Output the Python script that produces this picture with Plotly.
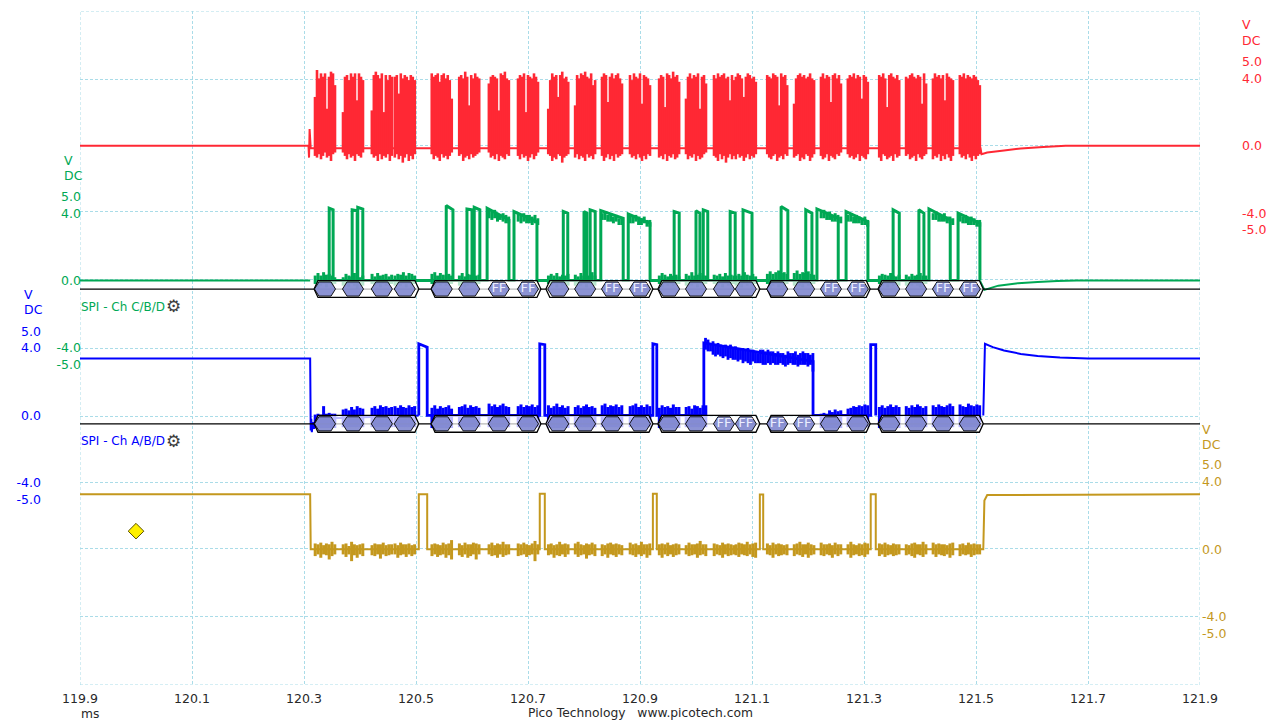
import plotly.graph_objects as go

RED = 'rgb(255,40,52)'
GREEN = 'rgb(0,168,84)'
BLUE = 'rgb(0,0,255)'
GOLD = 'rgb(196,152,30)'
GRID = 'rgb(170,220,232)'
FONT = 'DejaVu Sans'

time_ticks = [119.9, 120.1, 120.3, 120.5, 120.7, 120.9, 121.1, 121.3, 121.5, 121.7, 121.9]
volt_ticks = [-5, -4, 0, 4, 5]
volt_labels = ['-5.0', '-4.0', '0.0', '4.0', '5.0']
grid_levels = [1.01, 2.02, 3.0, 3.99, 5.0, 6.01, 7.02, 8.01, 8.99]

# centre time of each decoded byte, the noise bursts sit on the same bytes
byte_t = [120.3375, 120.3875, 120.439, 120.480, 120.546, 120.595, 120.648, 120.700,
          120.754, 120.802, 120.850, 120.900, 120.952, 121.000, 121.050, 121.089,
          121.145, 121.193, 121.241, 121.289, 121.345, 121.393, 121.441, 121.489]
packet_start = [120.318, 120.527, 120.732, 120.932, 121.127, 121.325]
packet_end = [120.505, 120.723, 120.923, 121.114, 121.311, 121.513]
ff_top = [6, 7, 10, 11, 18, 19, 22, 23]
ff_bottom = [14, 15, 16, 17]

# channel D (red)
red_t = [119.9, 120.308, 120.309, 120.310, 120.312, 121.508, 121.510, 121.52, 121.55, 121.58, 121.62, 121.66, 121.9]
red_v = [0.0, 0.0, -0.7, 1.0, -0.15, -0.15, -0.5, -0.4, -0.28, -0.16, -0.07, 0.0, 0.0]
red_hi = [
    [2.9, 4.5, 4.0, 4.3, 4.1, 4.3, 2.2, 4.1, 4.4, 4.3, 3.6],
    [2.0, 4.1, 4.2, 3.9, 4.3, 4.1, 4.3, 2.7, 4.3, 4.1, 3.9],
    [2.1, 4.2, 4.4, 4.2, 4.0, 4.3, 2.0, 4.2, 3.9, 4.2, 4.1],
    [4.1, 4.2, 3.1, 4.3, 4.0, 4.2, 4.1, 3.9, 4.2, 4.1, 3.9],
    [4.3, 4.1, 4.2, 4.3, 3.8, 4.2, 4.3, 4.0, 4.2, 3.9, 2.8],
    [4.1, 4.2, 4.0, 4.4, 4.1, 2.4, 4.2, 4.0, 4.3, 4.1, 4.0],
    [3.7, 4.1, 4.2, 4.1, 4.0, 2.1, 4.3, 4.2, 4.4, 4.0, 3.9],
    [4.0, 4.2, 4.1, 4.3, 2.0, 4.2, 4.1, 4.0, 4.3, 4.1, 3.8],
    [2.2, 3.9, 4.3, 4.1, 4.2, 2.9, 4.2, 4.4, 4.0, 4.1, 3.8],
    [2.4, 4.2, 4.0, 4.3, 4.2, 4.4, 4.1, 4.0, 4.3, 3.6, 3.9],
    [4.1, 4.3, 4.2, 2.6, 4.1, 4.3, 4.0, 4.2, 4.3, 4.0, 3.7],
    [4.2, 3.9, 4.3, 4.1, 4.0, 4.3, 2.5, 4.2, 4.1, 4.0, 3.6],
    [4.0, 4.2, 4.1, 2.3, 4.3, 4.2, 4.0, 4.4, 4.1, 4.2, 3.8],
    [2.8, 4.1, 4.3, 4.0, 4.2, 4.1, 4.3, 2.2, 4.1, 4.2, 3.7],
    [4.2, 4.0, 4.3, 4.1, 4.2, 4.3, 4.0, 4.1, 2.7, 4.2, 3.9],
    [4.1, 4.3, 4.2, 4.0, 2.9, 4.1, 4.3, 4.2, 4.0, 4.1, 3.8],
    [4.2, 4.1, 4.0, 4.3, 4.2, 4.1, 2.4, 4.3, 4.1, 4.2, 3.6],
    [2.5, 4.0, 4.2, 4.3, 4.1, 4.2, 4.0, 4.1, 4.3, 4.0, 3.9],
    [4.1, 4.3, 4.0, 4.2, 4.1, 2.6, 4.2, 4.3, 4.0, 4.2, 3.7],
    [4.0, 4.2, 4.1, 4.3, 4.0, 4.2, 4.1, 2.8, 4.2, 4.1, 3.8],
    [4.2, 4.1, 4.3, 4.0, 2.3, 4.2, 4.3, 4.1, 4.0, 4.2, 3.9],
    [4.1, 4.0, 4.2, 4.3, 4.1, 4.0, 4.2, 4.1, 2.5, 4.3, 3.7],
    [4.0, 4.3, 4.1, 4.2, 4.0, 4.2, 2.7, 4.3, 4.1, 4.0, 3.9],
    [4.2, 4.1, 4.3, 4.0, 4.2, 4.1, 4.0, 4.2, 4.1, 3.9, 3.6],
]
red_lo = [
    [-0.6, -0.7, -0.5, -0.8, -0.6, -0.4, -0.7, -0.6, -0.9, -0.5, -0.4],
    [-0.4, -0.6, -0.8, -0.5, -0.7, -0.6, -0.9, -0.5, -0.6, -0.7, -0.4],
    [-0.5, -0.7, -0.6, -0.9, -0.5, -0.8, -0.6, -0.7, -0.5, -0.9, -0.6],
    [-0.7, -0.5, -0.8, -0.6, -1.0, -0.7, -0.5, -0.9, -0.6, -0.8, -0.5],
    [-0.5, -0.8, -0.6, -0.7, -0.9, -0.5, -0.7, -0.6, -0.8, -0.6, -0.4],
    [-0.6, -0.5, -0.9, -0.7, -0.6, -0.8, -0.5, -0.7, -0.6, -0.5, -0.4],
    [-0.4, -0.7, -0.6, -0.8, -0.5, -0.9, -0.6, -0.7, -0.8, -0.5, -0.6],
    [-0.6, -0.8, -0.5, -0.7, -0.6, -0.9, -0.7, -0.5, -0.8, -0.6, -0.4],
    [-0.5, -0.6, -0.9, -0.7, -0.8, -0.5, -0.6, -1.0, -0.7, -0.6, -0.5],
    [-0.7, -0.5, -0.8, -0.6, -0.7, -0.9, -0.5, -0.7, -0.6, -0.8, -0.5],
    [-0.6, -0.9, -0.7, -0.5, -0.8, -0.6, -0.9, -0.5, -0.7, -0.6, -0.5],
    [-0.5, -0.7, -0.6, -0.8, -0.5, -0.7, -0.9, -0.6, -0.8, -0.5, -0.6],
    [-0.7, -0.6, -0.8, -0.5, -0.9, -0.6, -0.7, -0.5, -0.8, -0.7, -0.5],
    [-0.5, -0.8, -0.6, -0.7, -0.5, -0.9, -0.6, -0.8, -0.7, -0.5, -0.4],
    [-0.6, -0.7, -0.9, -0.5, -0.8, -0.6, -1.0, -0.7, -0.5, -0.8, -0.6],
    [-0.8, -0.5, -0.7, -0.6, -0.9, -0.7, -0.5, -0.8, -0.6, -0.7, -0.5],
    [-0.5, -0.7, -0.8, -0.6, -0.5, -0.9, -0.7, -0.6, -0.8, -0.5, -0.6],
    [-0.7, -0.6, -0.5, -0.9, -0.7, -0.8, -0.5, -0.6, -0.9, -0.7, -0.5],
    [-0.6, -0.8, -0.7, -0.5, -0.9, -0.6, -0.7, -0.8, -0.5, -0.6, -0.4],
    [-0.5, -0.7, -0.6, -0.8, -0.7, -0.5, -0.9, -0.6, -0.7, -0.8, -0.5],
    [-0.7, -0.9, -0.5, -0.6, -0.8, -0.7, -0.6, -0.9, -0.5, -0.7, -0.6],
    [-0.6, -0.5, -0.8, -0.7, -0.6, -0.9, -0.5, -0.7, -0.8, -0.6, -0.5],
    [-0.8, -0.6, -0.7, -0.5, -0.9, -0.6, -0.8, -0.5, -0.7, -0.9, -0.6],
    [-0.5, -0.7, -0.6, -0.8, -0.5, -0.7, -0.9, -0.6, -0.8, -0.6, -0.5],
]

# channel C (green)
green_head_t = [119.9, 120.311]
green_head_v = [0.0, 0.0]
green_on = [120.345, 120.386, 120.396, 120.554, 120.591, 120.604, 120.627, 120.675,
            120.763, 120.800, 120.811, 120.830, 120.879, 120.961, 121.000, 121.013,
            121.061, 121.084, 121.152, 121.196, 121.216, 121.268, 121.352, 121.398,
            121.416, 121.468]
green_off = [120.352, 120.395, 120.405, 120.566, 120.600, 120.614, 120.666, 120.716,
             120.771, 120.805, 120.820, 120.870, 120.918, 120.970, 121.007, 121.021,
             121.070, 121.100, 121.164, 121.207, 121.254, 121.307, 121.363, 121.407,
             121.454, 121.507]
green_top_a = [4.3, 4.2, 4.35, 4.45, 4.25, 4.35, 4.3, 4.1, 4.1, 4.1, 4.2, 4.15, 3.95,
               4.1, 4.15, 4.2, 4.1, 4.2, 4.4, 4.2, 4.25, 4.1, 4.2, 4.2, 4.25, 4.0]
green_top_b = [4.2, 4.15, 4.25, 4.2, 4.2, 4.2, 3.6, 3.5, 4.0, 4.0, 4.1, 3.7, 3.4, 4.0, 4.0,
               4.1, 4.0, 4.0, 4.15, 4.0, 3.7, 3.5, 4.0, 4.0, 3.6, 3.4]
green_tail_t = [121.507, 121.515, 121.54, 121.575, 121.61, 121.645, 121.68, 121.9]
green_tail_v = [0.0, -0.55, -0.3, -0.15, -0.08, -0.03, 0.0, 0.0]
green_hi = [
    [0.3, 0.45, 0.3, 0.5, 0.35, 0.4, 0.3, 0.2],
    [0.2, 0.4, 0.3, 0.25, 0.45, 0.3, 0.2, 0.3],
    [0.4, 0.25, 0.45, 0.3, 0.35, 0.4, 0.25, 0.35],
    [0.3, 0.4, 0.35, 0.5, 0.3, 0.45, 0.4, 0.3],
    [0.4, 0.5, 0.3, 0.45, 0.35, 0.3, 0.4, 0.3],
    [0.3, 0.45, 0.25, 0.4, 0.35, 0.5, 0.3, 0.35],
    [4.2, 4.1, 4.2, 4.0, 3.9, 4.0, 3.9, 3.8],
    [4.0, 3.9, 4.0, 3.9, 3.9, 3.8, 3.9, 3.7],
    [0.3, 0.4, 0.3, 0.45, 0.25, 0.35, 0.3, 0.4],
    [0.35, 0.25, 0.45, 0.3, 0.4, 0.3, 0.5, 0.3],
    [4.0, 4.1, 3.9, 4.0, 3.8, 3.9, 3.7, 3.7],
    [3.9, 3.8, 3.9, 3.8, 3.7, 3.8, 3.6, 3.6],
    [0.3, 0.45, 0.35, 0.25, 0.4, 0.3, 0.35, 0.25],
    [0.4, 0.3, 0.5, 0.3, 0.35, 0.45, 0.3, 0.3],
    [0.35, 0.3, 0.4, 0.25, 0.45, 0.3, 0.35, 0.3],
    [0.3, 0.4, 0.3, 0.5, 0.35, 0.3, 0.4, 0.25],
    [0.4, 0.55, 0.4, 0.5, 0.6, 0.45, 0.5, 0.4],
    [0.45, 0.6, 0.4, 0.5, 0.45, 0.55, 0.4, 0.35],
    [4.1, 4.2, 4.0, 4.1, 3.9, 4.0, 3.9, 3.8],
    [3.9, 4.0, 3.8, 3.9, 3.8, 3.7, 3.8, 3.6],
    [0.3, 0.4, 0.35, 0.3, 0.45, 0.3, 0.25, 0.35],
    [0.35, 0.25, 0.4, 0.3, 0.35, 0.45, 0.3, 0.3],
    [4.0, 4.1, 4.0, 3.9, 4.0, 3.8, 3.8, 3.7],
    [3.9, 3.8, 3.9, 3.7, 3.8, 3.7, 3.6, 3.6],
]
green_lo = [
    [-0.2, -0.5, -0.3, -0.2, -0.4, -0.2, -0.3, -0.2],
    [-0.3, -0.2, -0.4, -0.2, -0.3, -0.5, -0.2, -0.3],
    [-0.2, -0.3, -0.2, -0.4, -0.2, -0.3, -0.2, -0.2],
    [-0.3, -0.2, -0.3, -0.2, -0.4, -0.2, -0.3, -0.2],
    [-0.2, -0.4, -0.2, -0.3, -0.2, -0.3, -0.2, -0.2],
    [-0.3, -0.2, -0.4, -0.3, -0.2, -0.2, -0.3, -0.2],
    [3.7, 3.6, 3.7, 3.5, 3.6, 3.5, 3.4, 3.4],
    [3.5, 3.4, 3.5, 3.4, 3.4, 3.3, 3.4, 3.3],
    [-0.2, -0.3, -0.2, -0.4, -0.2, -0.3, -0.2, -0.3],
    [-0.3, -0.2, -0.3, -0.2, -0.4, -0.2, -0.2, -0.3],
    [3.6, 3.6, 3.5, 3.5, 3.4, 3.5, 3.3, 3.3],
    [3.4, 3.4, 3.5, 3.3, 3.3, 3.4, 3.2, 3.2],
    [-0.2, -0.4, -0.2, -0.3, -0.2, -0.3, -0.2, -0.2],
    [-0.3, -0.2, -0.3, -0.2, -0.4, -0.2, -0.3, -0.2],
    [-0.2, -0.3, -0.2, -0.4, -0.2, -0.3, -0.2, -0.2],
    [-0.3, -0.2, -0.4, -0.2, -0.3, -0.2, -0.3, -0.2],
    [-0.2, -0.5, -0.3, -0.2, -0.4, -0.2, -0.3, -0.2],
    [-0.3, -0.2, -0.3, -0.4, -0.2, -0.3, -0.2, -0.2],
    [3.7, 3.7, 3.6, 3.6, 3.5, 3.5, 3.5, 3.4],
    [3.5, 3.5, 3.4, 3.4, 3.4, 3.3, 3.3, 3.2],
    [-0.2, -0.3, -0.2, -0.4, -0.2, -0.3, -0.2, -0.3],
    [-0.3, -0.2, -0.3, -0.2, -0.3, -0.4, -0.2, -0.2],
    [3.6, 3.6, 3.5, 3.5, 3.5, 3.4, 3.4, 3.3],
    [3.5, 3.4, 3.4, 3.3, 3.3, 3.3, 3.2, 3.2],
]

# channel B (blue)
blue_head_t = [119.9, 120.311, 120.312, 120.313, 120.314, 120.316, 120.318, 120.321]
blue_head_v = [3.38, 3.38, -0.9, -0.2, -1.0, -0.4, -0.8, -0.2]
blue_on = [120.505, 120.721, 120.923, 121.014, 121.312]
blue_off = [120.520, 120.730, 120.930, 121.209, 121.321]
blue_top_a = [4.25, 4.25, 4.25, 4.3, 4.2]
blue_top_b = [4.05, 4.2, 4.2, 3.2, 4.2]
blue_tail_t = [121.513, 121.516, 121.53, 121.55, 121.58, 121.61, 121.65, 121.70, 121.9]
blue_tail_v = [0.0, 4.25, 4.05, 3.85, 3.65, 3.52, 3.43, 3.38, 3.38]
blue_hi = [
    [0.05, 0.1, 0.05, 0.55, 0.1, 0.15, 0.1, 0.1],
    [0.35, 0.4, 0.3, 0.5, 0.35, 0.55, 0.45, 0.4],
    [0.45, 0.55, 0.4, 0.6, 0.5, 0.55, 0.45, 0.5],
    [0.55, 0.45, 0.6, 0.5, 0.45, 0.6, 0.5, 0.55],
    [0.45, 0.6, 0.4, 0.55, 0.45, 0.5, 0.6, 0.4],
    [0.5, 0.55, 0.65, 0.45, 0.6, 0.5, 0.55, 0.45],
    [0.7, 0.55, 0.65, 0.5, 0.6, 0.7, 0.55, 0.5],
    [0.55, 0.65, 0.5, 0.6, 0.55, 0.65, 0.5, 0.6],
    [0.6, 0.45, 0.55, 0.7, 0.5, 0.6, 0.45, 0.55],
    [0.5, 0.6, 0.45, 0.55, 0.65, 0.5, 0.55, 0.45],
    [0.6, 0.7, 0.5, 0.6, 0.55, 0.65, 0.5, 0.6],
    [0.55, 0.6, 0.7, 0.5, 0.6, 0.5, 0.65, 0.55],
    [0.45, 0.6, 0.5, 0.55, 0.45, 0.65, 0.5, 0.5],
    [0.5, 0.55, 0.4, 0.6, 0.55, 0.45, 0.6, 0.6],
    [],
    [],
    [],
    [],
    [0.1, 0.15, 0.1, 0.3, 0.2, 0.35, 0.25, 0.3],
    [0.4, 0.45, 0.55, 0.5, 0.6, 0.55, 0.65, 0.6],
    [0.5, 0.6, 0.45, 0.55, 0.65, 0.5, 0.6, 0.5],
    [0.55, 0.45, 0.6, 0.5, 0.65, 0.55, 0.45, 0.55],
    [0.6, 0.5, 0.65, 0.55, 0.5, 0.6, 0.7, 0.55],
    [0.65, 0.55, 0.5, 0.7, 0.6, 0.55, 0.65, 0.6],
]
blue_lo = [-0.75, -0.7, -0.7, -0.7, -0.75, -0.7, -0.7, -0.7, -0.75, -0.7, -0.7, -0.7,
           -0.75, -0.7, -0.7, -0.7, -0.7, -0.7, -0.75, -0.7, -0.75, -0.7, -0.7, -0.7]
blue_high_t0 = 121.017
blue_high_hi = [4.6, 4.5, 4.3, 4.4, 4.2, 4.3, 4.2, 4.1, 4.2, 4.1, 4.2, 4.0, 4.1, 4.0, 3.9,
                4.0, 3.9, 4.0, 3.8, 3.9, 3.8, 3.7, 3.9, 3.9, 3.8, 3.9, 3.8, 3.8, 3.7, 3.8,
                3.7, 3.7, 3.6, 3.8, 3.7, 3.7, 3.8, 3.6, 3.7, 3.8, 3.7, 3.7, 3.6, 3.7]
blue_high_lo = [3.9, 3.8, 3.8, 3.6, 3.5, 3.6, 3.5, 3.4, 3.5, 3.3, 3.4, 3.3, 3.3, 3.2, 3.3,
                3.1, 3.2, 3.1, 3.0, 3.2, 3.1, 3.1, 3.1, 3.0, 3.0, 3.1, 3.0, 3.1, 3.0, 3.0,
                3.1, 3.0, 2.9, 3.0, 3.1, 3.0, 3.0, 2.9, 3.0, 3.0, 3.0, 2.9, 3.0, 2.6]

# channel A (gold)
gold_head_t = [119.9, 120.311, 120.312, 120.316]
gold_head_v = [3.27, 3.27, 0.0, 0.0]
gold_on = [120.505, 120.721, 120.923, 121.114, 121.312]
gold_off = [120.520, 120.730, 120.930, 121.120, 121.321]
gold_top = [3.27, 3.3, 3.3, 3.25, 3.27]
gold_tail_t = [121.513, 121.515, 121.52, 121.9]
gold_tail_v = [0.0, 2.9, 3.22, 3.27]
gold_hi = [
    [0.35, 0.3, 0.4, 0.25, 0.35, 0.3, 0.45, 0.3],
    [0.3, 0.35, 0.2, 0.45, 0.3, 0.25, 0.3, 0.35],
    [0.25, 0.35, 0.3, 0.3, 0.4, 0.25, 0.3, 0.3],
    [0.35, 0.25, 0.4, 0.3, 0.3, 0.35, 0.25, 0.3],
    [0.3, 0.35, 0.3, 0.25, 0.4, 0.3, 0.35, 0.55],
    [0.35, 0.25, 0.4, 0.3, 0.3, 0.4, 0.35, 0.3],
    [0.3, 0.4, 0.25, 0.35, 0.3, 0.45, 0.3, 0.3],
    [0.35, 0.3, 0.4, 0.3, 0.25, 0.35, 0.5, 0.3],
    [0.3, 0.35, 0.25, 0.3, 0.45, 0.3, 0.35, 0.3],
    [0.35, 0.45, 0.3, 0.25, 0.35, 0.3, 0.4, 0.3],
    [0.3, 0.25, 0.35, 0.4, 0.3, 0.35, 0.3, 0.25],
    [0.4, 0.3, 0.35, 0.25, 0.45, 0.3, 0.3, 0.35],
    [0.3, 0.35, 0.3, 0.4, 0.25, 0.3, 0.35, 0.3],
    [0.25, 0.4, 0.3, 0.3, 0.35, 0.5, 0.3, 0.3],
    [0.35, 0.3, 0.25, 0.4, 0.3, 0.35, 0.3, 0.25],
    [0.3, 0.4, 0.35, 0.3, 0.45, 0.3, 0.35, 0.4],
    [0.35, 0.25, 0.4, 0.3, 0.35, 0.3, 0.25, 0.3],
    [0.3, 0.35, 0.45, 0.3, 0.3, 0.4, 0.3, 0.25],
    [0.4, 0.3, 0.3, 0.35, 0.25, 0.4, 0.3, 0.3],
    [0.3, 0.45, 0.3, 0.25, 0.35, 0.3, 0.4, 0.35],
    [0.35, 0.3, 0.4, 0.3, 0.25, 0.35, 0.3, 0.3],
    [0.3, 0.25, 0.35, 0.4, 0.3, 0.3, 0.45, 0.3],
    [0.4, 0.3, 0.35, 0.3, 0.3, 0.25, 0.35, 0.4],
    [0.3, 0.35, 0.25, 0.4, 0.3, 0.35, 0.3, 0.3],
]
gold_lo = [
    [-0.4, -0.3, -0.5, -0.3, -0.35, -0.6, -0.4, -0.3],
    [-0.3, -0.45, -0.3, -0.7, -0.35, -0.5, -0.3, -0.4],
    [-0.35, -0.4, -0.3, -0.55, -0.3, -0.4, -0.35, -0.3],
    [-0.3, -0.5, -0.35, -0.3, -0.45, -0.3, -0.4, -0.3],
    [-0.4, -0.3, -0.45, -0.35, -0.3, -0.5, -0.35, -0.6],
    [-0.35, -0.45, -0.3, -0.5, -0.4, -0.3, -0.6, -0.3],
    [-0.3, -0.4, -0.35, -0.5, -0.3, -0.45, -0.35, -0.3],
    [-0.4, -0.35, -0.3, -0.45, -0.35, -0.3, -0.7, -0.3],
    [-0.35, -0.3, -0.5, -0.35, -0.4, -0.3, -0.45, -0.3],
    [-0.3, -0.45, -0.35, -0.3, -0.55, -0.35, -0.3, -0.4],
    [-0.4, -0.3, -0.5, -0.3, -0.35, -0.45, -0.3, -0.35],
    [-0.3, -0.35, -0.45, -0.3, -0.4, -0.3, -0.5, -0.35],
    [-0.35, -0.5, -0.3, -0.4, -0.3, -0.45, -0.35, -0.3],
    [-0.3, -0.4, -0.35, -0.3, -0.5, -0.35, -0.3, -0.4],
    [-0.4, -0.3, -0.35, -0.5, -0.3, -0.4, -0.35, -0.3],
    [-0.35, -0.45, -0.3, -0.35, -0.4, -0.3, -0.45, -0.5],
    [-0.3, -0.35, -0.5, -0.3, -0.4, -0.35, -0.3, -0.35],
    [-0.4, -0.3, -0.35, -0.45, -0.3, -0.5, -0.35, -0.3],
    [-0.35, -0.4, -0.3, -0.35, -0.5, -0.3, -0.4, -0.3],
    [-0.3, -0.5, -0.35, -0.3, -0.4, -0.35, -0.45, -0.3],
    [-0.4, -0.3, -0.45, -0.35, -0.3, -0.4, -0.35, -0.3],
    [-0.35, -0.3, -0.4, -0.5, -0.3, -0.35, -0.45, -0.3],
    [-0.3, -0.45, -0.3, -0.35, -0.4, -0.3, -0.5, -0.35],
    [-0.4, -0.3, -0.35, -0.3, -0.45, -0.35, -0.3, -0.3],
]


def spike_xy(centres, hi_rows, lo_rows, step):
    xs, ys = [], []
    for c, hi, lo in zip(centres, hi_rows, lo_rows):
        for k in range(len(hi)):
            t = c + (k - (len(hi) - 1) / 2) * step
            xs += [t, t, None]
            ys += [lo[k], hi[k], None]
    return xs, ys


def pulse_path(on, off, top_a, top_b, level=0.0):
    xs, ys = [], []
    for a, b, va, vb in zip(on, off, top_a, top_b):
        xs += [a, a, b, b]
        ys += [level, va, vb, level]
    return xs, ys


def polygons(starts, ends, mid, half_h, tip):
    xs, ys = [], []
    for a, b in zip(starts, ends):
        xs += [a, a + tip, b - tip, b, b - tip, a + tip, a, None]
        ys += [mid, mid + half_h, mid + half_h, mid, mid - half_h, mid - half_h, mid, None]
    return xs, ys


def line_trace(x, y, color, width, yaxis):
    return go.Scatter(x=x, y=y, mode='lines', yaxis=yaxis, showlegend=False, hoverinfo='skip',
                      line=dict(color=color, width=width, simplify=False))


def decode_traces(ff_index, yaxis):
    level = -0.5
    traces = [line_trace([time_ticks[0], time_ticks[-1]], [level, level], 'black', 1.2, yaxis)]
    px, py = polygons(packet_start, packet_end, level, 0.5, 0.007)
    traces.append(go.Scatter(x=px, y=py, mode='lines', yaxis=yaxis, fill='toself', showlegend=False,
                             hoverinfo='skip', fillcolor='rgba(255,255,255,0.72)',
                             line=dict(color='black', width=1.3)))
    hx, hy = polygons([c - 0.0188 for c in byte_t], [c + 0.0188 for c in byte_t], level, 0.42, 0.008)
    traces.append(go.Scatter(x=hx, y=hy, mode='lines', yaxis=yaxis, fill='toself', showlegend=False,
                             hoverinfo='skip', fillcolor='rgba(124,132,206,0.88)',
                             line=dict(color='black', width=0.9)))
    traces.append(go.Scatter(x=[byte_t[i] for i in ff_index], y=[level] * len(ff_index), mode='text',
                             yaxis=yaxis, showlegend=False, hoverinfo='skip', text=['FF'] * len(ff_index),
                             textposition='middle center',
                             textfont=dict(family=FONT, size=13, color='rgb(235,238,255)')))
    return traces


fig = go.Figure()

# frame on the base axis, plotly drops the gridlines that sit right on the range ends
fx = [time_ticks[0], time_ticks[-1], time_ticks[-1], time_ticks[0], time_ticks[0]]
fig.add_trace(go.Scatter(x=fx, y=[0, 0, 10, 10, 0], mode='lines', showlegend=False, hoverinfo='skip', cliponaxis=False,
                         line=dict(color=GRID, width=1, dash='3px,2px')))

# red
x, y = spike_xy(byte_t, red_hi, red_lo, 0.00357)
fig.add_trace(line_trace(x, y, RED, 2.6, 'y2'))
fig.add_trace(line_trace(red_t, red_v, RED, 2, 'y2'))

# green
x, y = spike_xy(byte_t, green_hi, green_lo, 0.0050)
fig.add_trace(line_trace(x, y, GREEN, 3, 'y3'))
fig.add_trace(line_trace(green_head_t, green_head_v, GREEN, 2, 'y3'))
px, py = pulse_path(green_on, green_off, green_top_a, green_top_b)
fig.add_trace(line_trace(px, py, GREEN, 3, 'y3'))
fig.add_trace(line_trace(green_tail_t, green_tail_v, GREEN, 2, 'y3'))
for tr in decode_traces(ff_top, 'y3'):
    fig.add_trace(tr)

# blue
blue_rows_lo = [[v] * len(row) for v, row in zip(blue_lo, blue_hi)]
x, y = spike_xy(byte_t, blue_hi, blue_rows_lo, 0.0050)
fig.add_trace(line_trace(x, y, BLUE, 3, 'y4'))
high_centre = blue_high_t0 + (len(blue_high_hi) - 1) / 2 * 0.00446
x, y = spike_xy([high_centre], [blue_high_hi], [blue_high_lo], 0.00446)
fig.add_trace(line_trace(x, y, BLUE, 2.8, 'y4'))
fig.add_trace(line_trace(blue_head_t + [blue_on[0]], blue_head_v + [0.0], BLUE, 2, 'y4'))
px, py = pulse_path(blue_on, blue_off, blue_top_a, blue_top_b)
fig.add_trace(line_trace(px, py, BLUE, 2.8, 'y4'))
fig.add_trace(line_trace(blue_tail_t, blue_tail_v, BLUE, 2, 'y4'))
for tr in decode_traces(ff_bottom, 'y4'):
    fig.add_trace(tr)

# gold
x, y = spike_xy(byte_t, gold_hi, gold_lo, 0.0050)
fig.add_trace(line_trace(x, y, GOLD, 3, 'y5'))
px, py = pulse_path(gold_on, gold_off, gold_top, gold_top)
fig.add_trace(line_trace(gold_head_t + px + gold_tail_t, gold_head_v + py + gold_tail_v, GOLD, 2, 'y5'))

# trigger marker
fig.add_trace(go.Scatter(x=[120.0], y=[1.08], mode='markers', yaxis='y5', showlegend=False, hoverinfo='skip',
                         marker=dict(symbol='diamond', size=12, color='rgb(255,240,0)',
                                     line=dict(color='rgb(90,80,0)', width=1))))


def volt_axis(rng, color, side, pos):
    return dict(range=rng, overlaying='y', anchor='free', side=side, position=pos, showgrid=False,
                zeroline=False, showline=False, ticks='', tickmode='array', tickvals=volt_ticks,
                ticktext=volt_labels, automargin=False, tickfont=dict(family=FONT, size=12.5, color=color))


fig.update_layout(
    width=1280, height=720, autosize=False,
    margin=dict(l=0, r=0, t=0, b=0, autoexpand=False),
    paper_bgcolor='white', plot_bgcolor='white',
    font=dict(family=FONT, size=12.5, color='rgb(40,40,40)'),
    xaxis=dict(domain=[80 / 1280, 1200 / 1280], range=[time_ticks[0], time_ticks[-1]], tickmode='array',
               tickvals=time_ticks, ticktext=[f'{t:.1f}' for t in time_ticks], showgrid=True, gridcolor=GRID,
               griddash='3px,2px', gridwidth=1, zeroline=False, showline=False, ticks='', automargin=False,
               ticklabelstandoff=4, tickfont=dict(family=FONT, size=12.5, color='rgb(40,40,40)')),
    yaxis=dict(domain=[35 / 720, 709 / 720], range=[0, 10], tickmode='array', tickvals=grid_levels, showgrid=True,
               gridcolor=GRID, griddash='3px,2px', gridwidth=1, zeroline=False, showline=False,
               showticklabels=False, ticks='', automargin=False),
    yaxis2=volt_axis([-32, 8], RED, 'right', 1241 / 1280),
    yaxis3=volt_axis([-24, 16], GREEN, 'left', 81 / 1280),
    yaxis4=volt_axis([-16, 24], BLUE, 'left', 41 / 1280),
    yaxis5=volt_axis([-8.05, 31.95], GOLD, 'right', 1201 / 1280),
)


def label(text, px, py, color, anchor='left', size=12.5):
    fig.add_annotation(text=text, x=px / 1280, y=1 - py / 720, xref='paper', yref='paper', xanchor=anchor,
                       yanchor='middle', showarrow=False, borderpad=0, align='left',
                       font=dict(family=FONT, size=size, color=color))


label('V', 1241, 25, RED)
label('DC', 1241, 40, RED)
label('V', 63, 160, GREEN)
label('DC', 63, 175, GREEN)
label('V', 23, 294, BLUE)
label('DC', 23, 309, BLUE)
label('V', 1201, 429, GOLD)
label('DC', 1201, 444, GOLD)
label('SPI - Ch C/B/D', 80, 307, GREEN, size=12)
label('SPI - Ch A/B/D', 80, 441, BLUE, size=12)
label('⚙', 173, 306, 'rgb(60,60,60)', 'center', 17)
label('⚙', 173, 441, 'rgb(60,60,60)', 'center', 17)
label('ms', 80, 714, 'rgb(40,40,40)', size=12.3)
label('Pico Technology\u00a0\u00a0\u00a0www.picotech.com', 640, 713, 'rgb(40,40,40)', 'center', 12.3)

# the default page margin would push the 1280x720 figure off the window
fig.write_html("out.html", config=dict(displayModeBar=False), post_script="document.body.style.margin='0';")
